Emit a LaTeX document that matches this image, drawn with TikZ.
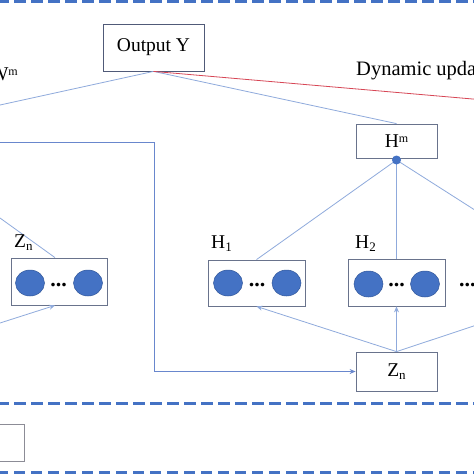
\documentclass[tikz,border=0pt]{standalone}
\usepackage{fontspec}
\setmainfont{Liberation Serif}
\usetikzlibrary{calc,arrows.meta,shapes.geometric}
\definecolor{dashblue}{RGB}{68,114,196}
\definecolor{connblue}{RGB}{143,170,220}
\definecolor{elbowblue}{RGB}{105,135,205}
\definecolor{boxgray}{RGB}{105,115,140}
\definecolor{dotfill}{RGB}{68,114,196}
\definecolor{dotline}{RGB}{50,88,155}
\definecolor{updred}{RGB}{215,70,85}
\newcommand{\myup}[1]{\raisebox{4.5pt}{\fontsize{12}{12}\selectfont #1}}
\newcommand{\mydn}[1]{\raisebox{-3pt}{\fontsize{13}{13}\selectfont #1}}
\begin{document}
\begin{tikzpicture}[x=1pt,y=-1pt,
  every node/.style={font=\fontsize{19.5}{23}\selectfont},
  box/.style={draw=boxgray,line width=0.8pt,fill=white,rectangle,inner sep=0pt},
  unit/.style={ellipse,fill=dotfill,draw=dotline,line width=0.5pt,minimum width=29pt,minimum height=26pt,inner sep=0pt},
  dots/.style={inner sep=0pt,font=\fontsize{22}{24}\selectfont\bfseries},
  conn/.style={draw=connblue,line width=0.8pt},
  elbow/.style={draw=elbowblue,line width=0.9pt},
  tip/.style={-{Stealth[length=6pt,width=5pt]}},
  sep/.style={draw=dashblue,line width=3pt,dash pattern=on 12pt off 5pt},
  lab/.style={anchor=base west,inner sep=0pt}]
\useasboundingbox (0,0) rectangle (474,474);
\clip (0,0) rectangle (474,474);
\fill[white] (0,0) rectangle (474,474);

% separators
\coordinate (s1a) at (-3,1.5); \coordinate (s1b) at (480,1.5);
\coordinate (s2a) at (-3,403); \coordinate (s2b) at (480,403);
\coordinate (s3a) at (-3,472.5); \coordinate (s3b) at (480,472.5);
\draw[sep] (s1a) -- (s1b);
\draw[sep] (s2a) -- (s2b);
\draw[sep,dash pattern=on 11pt off 6pt] (s3a) -- (s3b);

% free ends
\coordinate (wend) at (-5,106.1);
\coordinate (redend) at (490,100.5);
\coordinate (lstart) at (-5,142);
\coordinate (lbend) at (154,142);
\coordinate (h3top) at (490,219.7);
\coordinate (h3bot) at (490,320.6);
\coordinate (zlin) at (-5,214.4);
\coordinate (zlarr) at (-5,324.6);

% boxes
\node[box,minimum width=101pt,minimum height=47pt,draw={rgb,255:red,80;green,90;blue,120}] (out) at (153.5,47.5) {Output Y};
\node[box,minimum width=81pt,minimum height=34pt] (hm) at (396.5,141) {H\myup{m}};
\node[box,minimum width=97pt,minimum height=46pt] (h1) at (256.5,283) {};
\node[box,minimum width=97pt,minimum height=47pt] (h2) at (396.5,282.5) {};
\node[box,minimum width=96pt,minimum height=47pt] (zl) at (59,281.5) {};
\node[box,minimum width=81pt,minimum height=39pt] (zn) at (396.5,371.5) {Z\mydn{n}};
\node[box,minimum width=44pt,minimum height=37pt,draw={rgb,255:red,140;green,140;blue,150}] (bl) at (2,442.5) {};

% connectors
\draw[conn] (out.south) -- (wend);
\draw[conn] (out.south) -- (hm.north);
\draw[draw=updred,line width=0.8pt] (out.south) -- (redend);
\draw[elbow,tip] (lstart) -- (lbend) |- (zn.west);
\draw[conn] (396.5,160) -- (h1.north);
\draw[conn] (396.5,160) -- (h2.north);
\draw[conn] (396.5,160) -- (h3top);
\draw[conn,tip] (zn.north) -- (h1.south);
\draw[conn,tip] (zn.north) -- (h2.south);
\draw[conn,tip] (zn.north) -- (h3bot);
\draw[conn] (zlin) -- ($(zl.north)+(-4,0)$);
\draw[conn,tip] (zlarr) -- ($(zl.south)+(-4,0)$);

\node[circle,fill=dotfill,inner sep=0pt,minimum size=9pt] (hd) at (396.5,160) {};

% units
\node[unit] (h1a) at (228,283) {};
\node[unit] (h1b) at (286.5,283) {};
\node[dots] (h1d) at (257,285) {...};
\node[unit] (h2a) at (368.5,284) {};
\node[unit] (h2b) at (425,284) {};
\node[dots] (h2d) at (396.5,285) {...};
\node[unit] (zla) at (30,283) {};
\node[unit] (zlb) at (88,283) {};
\node[dots] (zld) at (58.5,285) {...};
\node[dots,anchor=west] (h3d) at (459,285) {...};

% labels
\node[lab] (lh1) at (211,248) {H\mydn{1}};
\node[lab] (lh2) at (355,248) {H\mydn{2}};
\node[lab] (lzn) at (14,247) {Z\mydn{n}};
\node[lab,anchor=base east] (lw) at (18,80) {W\myup{m}};
\node[lab,font=\fontsize{20.5}{24}\selectfont] (dyn) at (356,75) {Dynamic update};
\end{tikzpicture}
\end{document}
